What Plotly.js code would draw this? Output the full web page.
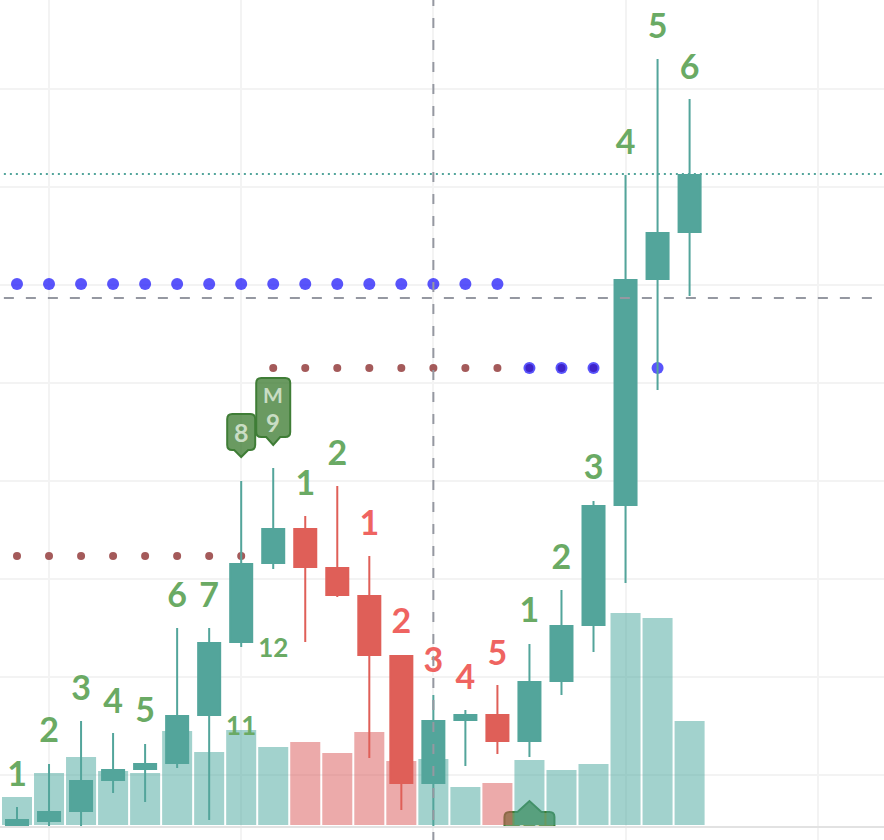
<!DOCTYPE html>
<html>
<head>
<meta charset="utf-8">
<script src="https://cdn.plot.ly/plotly-3.0.1.min.js"></script>
<style>html,body{margin:0;padding:0;background:#fff}#chart{width:884px;height:840px}</style>
</head>
<body>
<div id="chart"></div>
<script>
const idx = [0,1,2,3,4,5,6,7,8,9,10,11,12,13,14,15,16,17,18,19,20,21];
const open  = [15,19,29,60,71,77,125,198,277,311,272,244,184,57,120,125,99,159,215,335,561,608];
const close = [20,28,59,70,76,124,197,276,311,273,245,185,57,119,125,99,158,214,334,560,607,665];
const high  = [33,76,119,107,96,212,212,359,372,324,354,284,185,145,130,155,196,250,339,665,781,741];
const low   = [14,14,14,47,38,72,20,193,271,198,243,82,30,14,74,86,83,145,188,257,450,544];
const volume = [28,52,68,54,52,94,73,95,78,83,72,93,64,66,38,42,65,55,61,212,207,104];
const volumeColors = idx.map(i => close[i] >= open[i] ? 'rgba(69,165,155,0.5)' : 'rgba(217,85,85,0.5)');

const blueIdx = [0,1,2,3,4,5,6,7,8,9,10,11,12,13,14,15,16,17,18,19,20];
const blueVal = [556,556,556,556,556,556,556,556,556,556,556,556,556,556,556,556,472,472,472,472,472];
const redIdx = [0,1,2,3,4,5,6,7,8,9,10,11,12,13,14,15,16,17,18];
const redVal = [284,284,284,284,284,284,284,284,472,472,472,472,472,472,472,472,472,472,472];

const greenLabelIdx = [0,1,2,3,4,5,6,9,10,16,17,18,19,20,21];
const greenLabelVal = [63,107,149,136,127,242,242,354,384,227,280,370,695,811,770];
const greenLabelTxt = ['1','2','3','4','5','6','7','1','2','1','2','3','4','5','6'];
const redLabelIdx = [11,12,13,14,15];
const redLabelVal = [314,216,177,160,184];
const redLabelTxt = ['1','2','3','4','5'];
const smallLabelIdx = [7,8];
const smallLabelVal = [112,190];
const smallLabelTxt = ['11','12'];

const resistance = 666;
const crossPrice = 542;
const crossIdx = 13;
const FONT = 'Lato, sans-serif';
const TEAL = '#53a59b', RED = '#df5f58';

const traces = [
  {type:'bar', x:idx, y:volume, marker:{color:volumeColors, line:{width:0}}, xaxis:'x', yaxis:'y', hoverinfo:'skip', showlegend:false},
  {type:'scatter', mode:'markers', x:redIdx, y:redVal, marker:{size:8, color:'#a45a5a'}, xaxis:'x', yaxis:'y2', hoverinfo:'skip', showlegend:false},
  {type:'scatter', mode:'markers', x:blueIdx, y:blueVal, marker:{size:12, color:'rgba(19,12,249,0.7)'}, xaxis:'x', yaxis:'y2', hoverinfo:'skip', showlegend:false},
  {type:'candlestick', x:idx, open:open, high:high, low:low, close:close, xaxis:'x', yaxis:'y3',
    increasing:{line:{color:TEAL, width:2}, fillcolor:TEAL},
    decreasing:{line:{color:RED, width:2}, fillcolor:RED},
    hoverinfo:'skip', showlegend:false},
  {type:'scatter', mode:'lines', x:[-0.41,27.1], y:[resistance,resistance], line:{color:TEAL, width:2, dash:'2px,4px'}, xaxis:'x', yaxis:'y3', hoverinfo:'skip', showlegend:false},
  {type:'scatter', mode:'lines', x:[-0.41,26.8], y:[crossPrice,crossPrice], line:{color:'#9598a1', width:2, dash:'10px,12px'}, xaxis:'x', yaxis:'y3', hoverinfo:'skip', showlegend:false},
  {type:'scatter', mode:'text', x:greenLabelIdx, y:greenLabelVal, text:greenLabelTxt, textposition:'middle center', textfont:{family:FONT, size:34, weight:700, color:'#6aaa64'}, xaxis:'x', yaxis:'y3', hoverinfo:'skip', showlegend:false, cliponaxis:false},
  {type:'scatter', mode:'text', x:redLabelIdx, y:redLabelVal, text:redLabelTxt, textposition:'middle center', textfont:{family:FONT, size:34, weight:700, color:'#ef6461'}, xaxis:'x', yaxis:'y3', hoverinfo:'skip', showlegend:false, cliponaxis:false},
  {type:'scatter', mode:'text', x:smallLabelIdx, y:smallLabelVal, text:smallLabelTxt, textposition:'middle center', textfont:{family:FONT, size:26, weight:700, color:'#6aaa64'}, xaxis:'x', yaxis:'y3', hoverinfo:'skip', showlegend:false, cliponaxis:false},
  {type:'scatter', mode:'text', x:[16], y:[15], text:['M'], textposition:'bottom center', textfont:{family:FONT, size:24, weight:700, color:'#c9ddc4'}, xaxis:'x', yaxis:'y3', hoverinfo:'skip', showlegend:false}
];

const BADGE_FILL = 'rgba(56,120,44,0.75)', BADGE_LINE = '#3f7d36';

function badge(i, anchor, tip, bottom, top, half, arrow) {
  const r = 5;
  const path = [
    'M', -half+r, top, 'L', half-r, top, 'Q', half, top, half, top-r,
    'L', half, bottom+r, 'Q', half, bottom, half-r, bottom,
    'L', arrow, bottom, 'L', 0, tip, 'L', -arrow, bottom, 'L', -half+r, bottom,
    'Q', -half, bottom, -half, bottom+r, 'L', -half, top-r, 'Q', -half, top, -half+r, top, 'Z'
  ].join(' ');
  return {type:'path', layer:'above', xref:'x', yref:'y3', xsizemode:'pixel', ysizemode:'pixel',
    xanchor:i, yanchor:anchor, path:path, fillcolor:BADGE_FILL, line:{color:BADGE_LINE, width:2}};
}

function badgeBelowBar(i, tip, top, half, arrow) {
  const r = 5, low = -20;
  const path = [
    'M', -half+r, top, 'L', -arrow, top, 'L', 0, tip, 'L', arrow, top, 'L', half-r, top,
    'Q', half, top, half, top-r, 'L', half, low, 'L', -half, low, 'L', -half, top-r,
    'Q', -half, top, -half+r, top, 'Z'
  ].join(' ');
  return {type:'path', layer:'below', xref:'x', yref:'y', xsizemode:'pixel', ysizemode:'pixel',
    xanchor:i, yanchor:0, path:path, fillcolor:BADGE_FILL, line:{color:BADGE_LINE, width:2}};
}

const shapes = [
  badge(7, high[7], 24, 31, 67, 14, 7),
  badge(8, high[8], 23, 31, 90, 17, 7),
  badgeBelowBar(16, 24, 13, 25, 12),
  {type:'line', layer:'above', xref:'x', yref:'paper', x0:crossIdx, x1:crossIdx, y0:1+4/826, y1:-14/826,
   line:{color:'#9598a1', width:2, dash:'10px,12px'}}
];

const annotations = [
  {x:7, y:high[7], yref:'y3', xref:'x', yshift:49, text:'8', showarrow:false, font:{family:FONT, size:25, weight:700, color:'#c9ddc4'}},
  {x:8, y:high[8], yref:'y3', xref:'x', yshift:74, text:'M', showarrow:false, font:{family:FONT, size:21, weight:700, color:'#c9ddc4'}},
  {x:8, y:high[8], yref:'y3', xref:'x', yshift:46, text:'9', showarrow:false, font:{family:FONT, size:24, weight:700, color:'#c9ddc4'}}
];

const layout = {
  width:884, height:840,
  margin:{l:0, r:0, t:0, b:14, pad:0},
  paper_bgcolor:'#ffffff', plot_bgcolor:'#ffffff',
  showlegend:false, bargap:0.0625, boxgap:0.3125, boxgroupgap:0, hovermode:false,
  xaxis:{range:[-0.5308,27.07], tick0:1, dtick:6, showgrid:true, gridcolor:'#f3f3f3', gridwidth:2,
    zeroline:false, showline:true, linecolor:'#e2e2e2', linewidth:2, ticks:'outside', ticklen:12, tickwidth:2, tickcolor:'#f3f3f3',
    showticklabels:false, rangeslider:{visible:false}},
  yaxis:{range:[-1,825], visible:false, fixedrange:true},
  yaxis2:{range:[14,840], overlaying:'y', visible:false},
  yaxis3:{range:[14,840], overlaying:'y', tick0:65, dtick:98, showgrid:true, gridcolor:'#f3f3f3', gridwidth:2,
    zeroline:false, showline:false, showticklabels:false, ticks:''},
  shapes:shapes, annotations:annotations
};
Plotly.newPlot('chart', traces, layout, {displayModeBar:false, staticPlot:true});
</script>
</body>
</html>
